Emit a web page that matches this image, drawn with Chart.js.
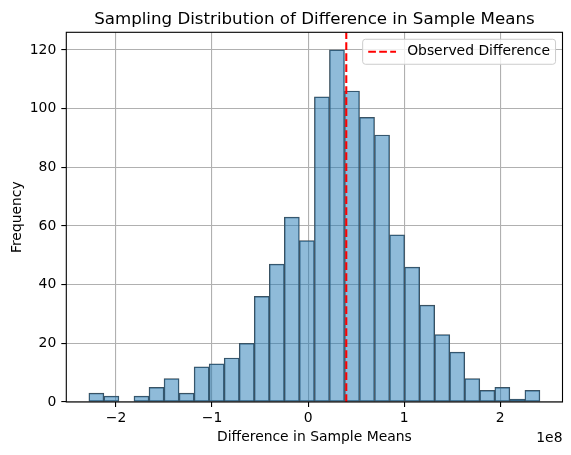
<!DOCTYPE html>
<html>
<head>
<meta charset="utf-8">
<script src="https://cdn.jsdelivr.net/npm/chart.js@4/dist/chart.umd.min.js"></script>
<style>
  html, body { margin: 0; padding: 0; background: #fff; }
  canvas { display: block; }
</style>
</head>
<body>
<canvas id="c" width="571" height="455"></canvas>
<script>
// ---- data ----
const chartTitle = 'Sampling Distribution of Difference in Sample Means';
const xLabel = 'Difference in Sample Means';
const yLabel = 'Frequency';
const offsetText = '1e8';
const legendLabel = 'Observed Difference';

// bin centres (raw values)
const binCenters = [
  -220470000, -204810000, -189150000, -173490000, -157830000, -142170000,
  -126510000, -110850000,  -95190000,  -79530000,  -63870000,  -48210000,
   -32550000,  -16890000,   -1230000,   14430000,   30090000,   45750000,
    61410000,   77070000,   92730000,  108390000,  124050000,  139710000,
   155370000,  171030000,  186690000,  202350000,  218010000,  233670000
];
const counts = [
  3, 2, 0, 2, 5, 8,
  3, 12, 13, 15, 20, 36,
  47, 63, 55, 104, 120, 106,
  97, 91, 57, 46, 33, 23,
  17, 8, 4, 5, 1, 4
];
const observedDiff = 39800000;
const xTickValues = [-200000000, -100000000, 0, 100000000, 200000000];
const yTickValues = [0, 20, 40, 60, 80, 100, 120];
const xRange = [-251800000, 265000000];
const yRange = [0, 126];

// ---- styles ----
const FONT = '"DejaVu Sans", sans-serif';
const barFill = 'rgba(31,119,180,0.5)';
const barEdge = '#3d4d58';
const gridColor = '#b0b0b0';

const deco = {
  id: 'deco',
  afterDraw(chart) {
    const { ctx, chartArea: a } = chart;
    ctx.save();
    // frame
    ctx.strokeStyle = '#000';
    ctx.lineWidth = 1.1;
    ctx.strokeRect(a.left, a.top, a.right - a.left, a.bottom - a.top);
    // title
    ctx.fillStyle = '#000';
    ctx.font = '16.67px ' + FONT;
    ctx.textAlign = 'center';
    ctx.textBaseline = 'alphabetic';
    ctx.fillText(chartTitle, (a.left + a.right) / 2, a.top - 8.3);
    // offset text
    ctx.font = '13.9px ' + FONT;
    ctx.textAlign = 'right';
    ctx.fillText(offsetText, a.right, 442);
    // legend
    const fs = 13.9;
    const label = chart.data.datasets[0].label;
    ctx.font = fs + 'px ' + FONT;
    const tw = ctx.measureText(label).width;
    const pad = 0.4 * fs, handle = 2.0 * fs, htp = 0.8 * fs;
    const bw = tw + handle + htp + 2 * pad;
    const bh = 25;
    const bx = a.right - 0.5 * fs - bw;
    const by = a.top + 0.5 * fs;
    const r = 2.8;
    ctx.beginPath();
    ctx.moveTo(bx + r, by);
    ctx.lineTo(bx + bw - r, by);
    ctx.quadraticCurveTo(bx + bw, by, bx + bw, by + r);
    ctx.lineTo(bx + bw, by + bh - r);
    ctx.quadraticCurveTo(bx + bw, by + bh, bx + bw - r, by + bh);
    ctx.lineTo(bx + r, by + bh);
    ctx.quadraticCurveTo(bx, by + bh, bx, by + bh - r);
    ctx.lineTo(bx, by + r);
    ctx.quadraticCurveTo(bx, by, bx + r, by);
    ctx.closePath();
    ctx.fillStyle = 'rgba(255,255,255,0.8)';
    ctx.fill();
    ctx.strokeStyle = '#cccccc';
    ctx.lineWidth = 1;
    ctx.stroke();
    const cy = by + bh / 2;
    ctx.beginPath();
    ctx.setLineDash([7.7, 3.3]);
    ctx.strokeStyle = 'red';
    ctx.lineWidth = 2.08;
    ctx.moveTo(bx + pad, cy);
    ctx.lineTo(bx + pad + handle, cy);
    ctx.stroke();
    ctx.setLineDash([]);
    ctx.fillStyle = '#000';
    ctx.textAlign = 'left';
    ctx.textBaseline = 'middle';
    ctx.fillText(label, bx + pad + handle + htp, cy);
    ctx.restore();
  }
};

const fmt = v => {
  const n = Math.round(v / 1e8);
  return n < 0 ? '\u2212' + Math.abs(n) : String(n);
};

new Chart(document.getElementById('c'), {
  type: 'bar',
  data: {
    datasets: [
      {
        type: 'line',
        label: legendLabel,
        data: [{ x: observedDiff, y: yRange[0] }, { x: observedDiff, y: yRange[1] }],
        borderColor: 'red',
        borderWidth: 2.08,
        borderDash: [7.7, 3.3],
        pointRadius: 0,
        fill: false,
        order: 0
      },
      {
        type: 'bar',
        label: 'Frequency',
        data: binCenters.map((x, i) => ({ x: x, y: counts[i] })),
        backgroundColor: barFill,
        borderColor: barEdge,
        borderWidth: 0.8,
        borderSkipped: false,
        barPercentage: 1,
        categoryPercentage: 1,
        order: 1
      }
    ]
  },
  options: {
    responsive: false,
    animation: false,
    events: [],
    layout: { padding: { left: 0, top: 32.3, right: 8.5, bottom: 0 } },
    plugins: { legend: { display: false }, title: { display: false }, tooltip: { enabled: false } },
    scales: {
      x: {
        type: 'linear',
        min: xRange[0],
        max: xRange[1],
        offset: false,
        z: 1,
        afterFit(s) { s.height = 53; },
        afterBuildTicks(s) { s.ticks = xTickValues.map(v => ({ value: v })); },
        grid: { color: gridColor, lineWidth: 1.1, tickColor: '#000', tickLength: 5, tickWidth: 1.1, offset: false },
        border: { display: false },
        ticks: { callback: fmt, color: '#000', font: { family: FONT, size: 13.9 }, padding: 3, maxRotation: 0, autoSkip: false },
        title: { display: true, text: xLabel, color: '#000', font: { family: FONT, size: 13.9, lineHeight: 1 }, padding: { top: 0, bottom: 11 } }
      },
      y: {
        type: 'linear',
        min: yRange[0],
        max: yRange[1],
        z: 1,
        afterFit(s) { s.width = 66.3; },
        afterBuildTicks(s) { s.ticks = yTickValues.map(v => ({ value: v })); },
        grid: { color: gridColor, lineWidth: 1.1, tickColor: '#000', tickLength: 5, tickWidth: 1.1 },
        border: { display: false },
        ticks: { color: '#000', font: { family: FONT, size: 13.9 }, padding: 5, autoSkip: false },
        title: { display: true, text: yLabel, color: '#000', font: { family: FONT, size: 13.9, lineHeight: 1 }, padding: { top: 10, bottom: 0 } }
      }
    }
  },
  plugins: [deco]
});
</script>
</body>
</html>
